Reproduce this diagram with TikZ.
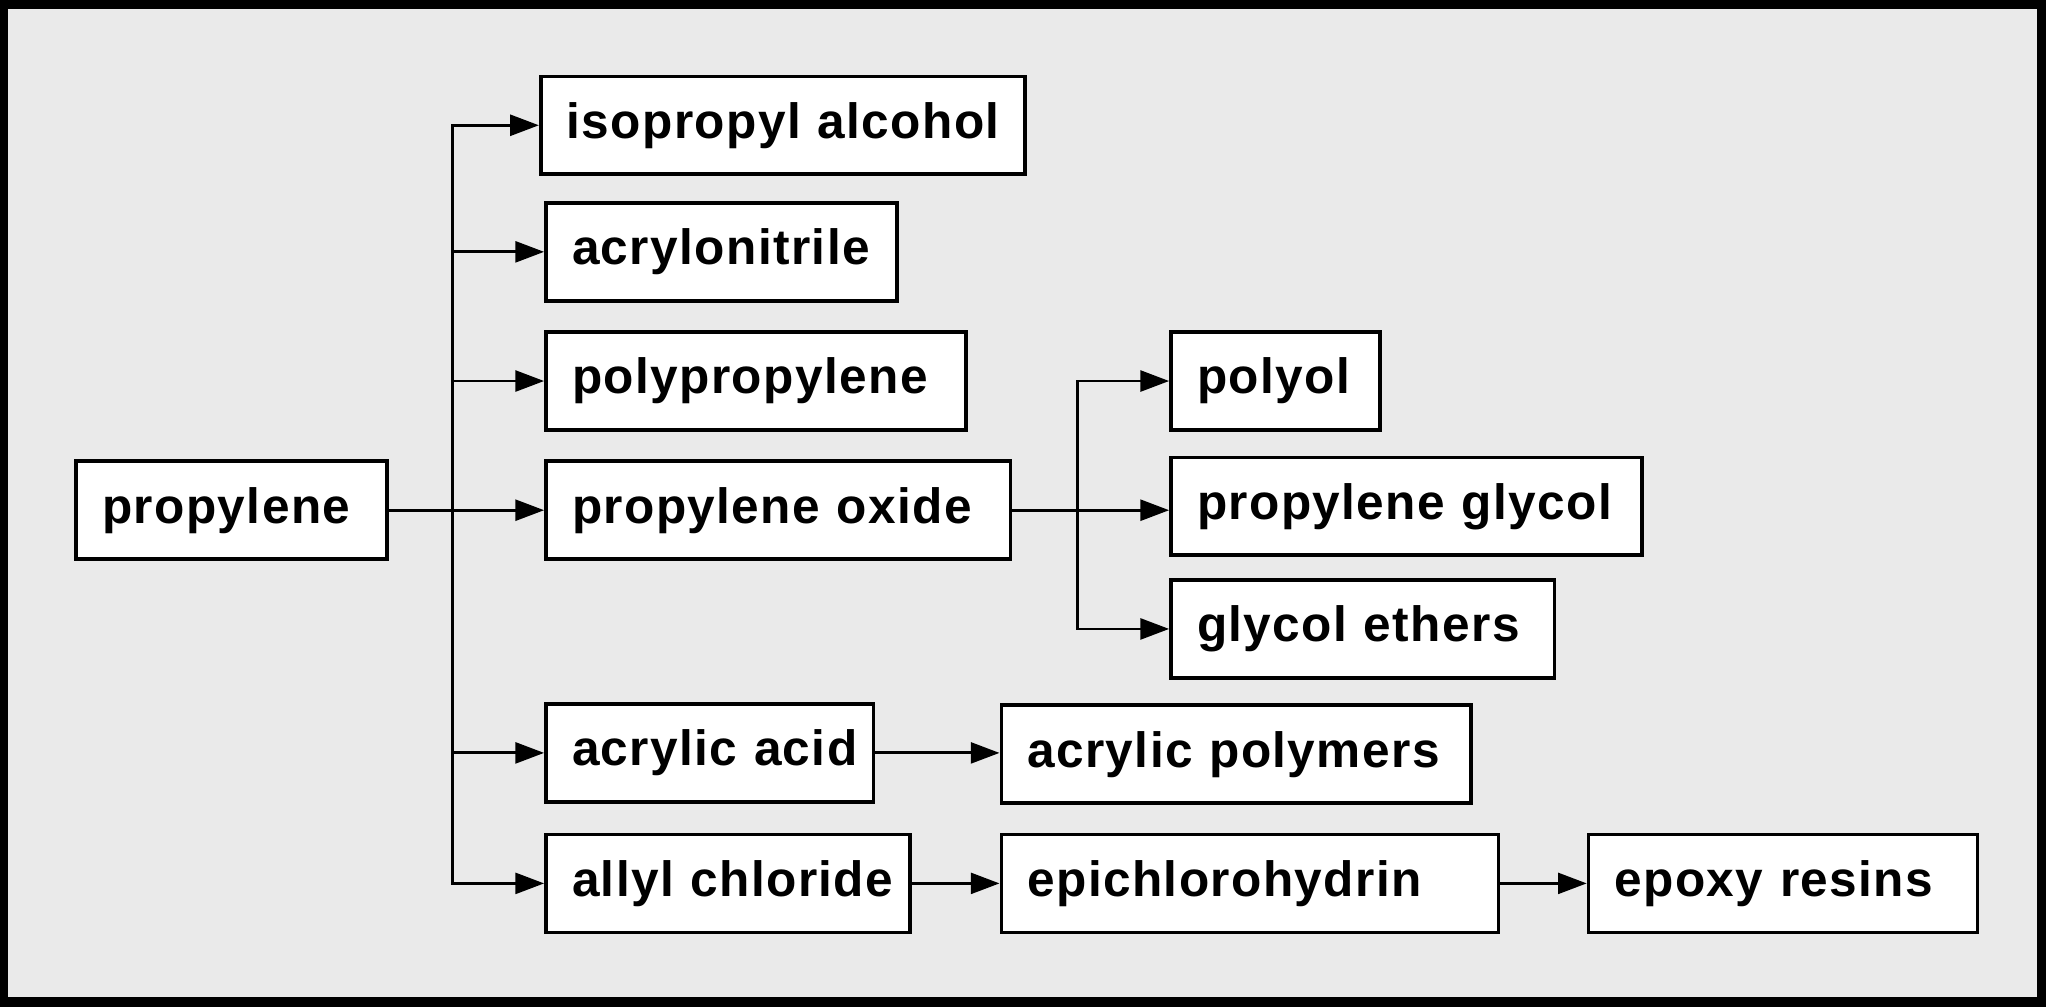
\documentclass[tikz,border=0pt]{standalone}
\usepackage{fontspec}
\setmainfont{Liberation Sans}[LetterSpace=2.8,WordSpace=0.45]
\usepackage{tikz}
\usetikzlibrary{arrows.meta}
\definecolor{panelgray}{RGB}{234,234,234}
\tikzset{
  chem/.style={draw, line width=1.4pt, fill=white, anchor=west, inner xsep=0pt, inner ysep=0pt,
    minimum height=37.5pt, align=left, font=\fontsize{19}{23}\selectfont\bfseries,
    execute at begin node={\hyphenpenalty=10000\leftskip=10pt}},
  feed/.style={line width=1.1pt, -{Triangle[length=11pt,width=8pt]}},
}

\begin{document}
\begin{tikzpicture}
                [line join=miter,x={(0.5pt,0pt)},y={(0pt,-0.5pt)}]

                % frame
                \fill[black] (0,0) rectangle (1568,772);
                \fill[panelgray] (6,7) rectangle (1561,764);

                \coordinate (fork1) at (347,391);
                \coordinate (fork2) at (826,391);

                \node[chem, text width=119pt] (propylene) at (57,391) {propylene};

                \node[chem, text width=185.5pt] (isopropanol) at (413,96) {isopropyl alcohol};
                \node[chem, text width=134.5pt] (acrylonitrile) at (417,193) {acrylonitrile};
                \node[chem, text width=161pt] (polypropylene) at (417,292) {polypropylene};
                \node[chem, text width=178pt] (oxide) at (417,391) {propylene oxide};
                \node[chem, text width=125.5pt] (acrylicacid) at (417,577) {acrylic acid};
                \node[chem, text width=139.5pt] (allylcl) at (417,677) {allyl chloride};

                \node[chem, text width=80pt] (polyol) at (896,292) {polyol};
                \node[chem, text width=180.5pt] (glycol) at (896,388) {propylene glycol};
                \node[chem, text width=147pt] (ethers) at (896,482) {glycol ethers};

                \node[chem, text width=180pt] (polymers) at (766,578) {acrylic polymers};
                \node[chem, text width=190.5pt] (epichlo) at (766,677) {epichlorohydrin};
                \node[chem, text width=149pt] (epoxy) at (1216,677) {epoxy resins};

                \draw[feed] (propylene.east) -- (oxide.west);
                \foreach \n in {isopropanol,acrylonitrile,polypropylene,acrylicacid,allylcl}
                    \draw[feed] (fork1) |- (\n.west);

                \draw[feed] (oxide.east) -- (oxide.east -| glycol.west);
                \draw[feed] (fork2) |- (polyol.west);
                \draw[feed] (fork2) |- (ethers.west);

                \draw[feed] (acrylicacid.east) -- (acrylicacid.east -| polymers.west);
                \draw[feed] (allylcl.east) -- (epichlo.west);
                \draw[feed] (epichlo.east) -- (epoxy.west);
            \end{tikzpicture}
\end{document}
